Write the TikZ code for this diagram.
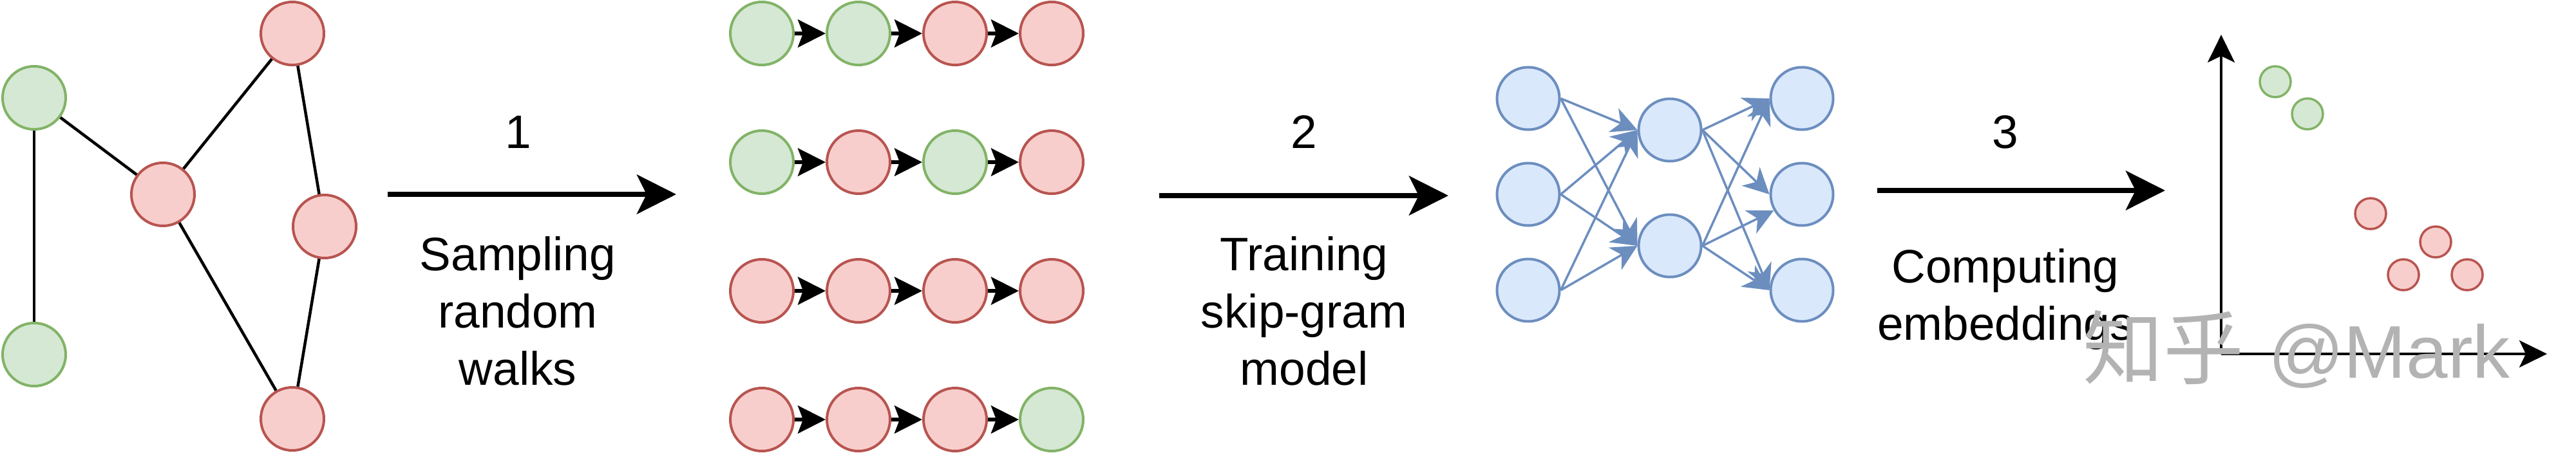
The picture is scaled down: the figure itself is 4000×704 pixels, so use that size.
\documentclass[tikz,border=0pt]{standalone}
\usepackage{fontspec}
\setmainfont{Liberation Sans}
\newfontfamily\cjkfont{Noto Sans CJK SC}
\usetikzlibrary{arrows.meta}

\definecolor{greenfill}{HTML}{D5E8D4}
\definecolor{greenline}{HTML}{82B366}
\definecolor{redfill}{HTML}{F8CECC}
\definecolor{redline}{HTML}{B85450}
\definecolor{bluefill}{HTML}{DAE8FC}
\definecolor{blueline}{HTML}{6C8EBF}
\definecolor{markgray}{HTML}{B3B3B3}

\tikzset{
    vert/.style={circle, inner sep=0pt, minimum size=98pt, line width=4pt},
    green node/.style={vert, fill=greenfill, draw=greenline},
    red node/.style={vert, fill=redfill, draw=redline},
    net node/.style={circle, inner sep=0pt, minimum size=97pt, line width=4pt, fill=bluefill, draw=blueline},
    green dot/.style={circle, inner sep=0pt, minimum size=48pt, line width=3.5pt, fill=greenfill, draw=greenline},
    red dot/.style={circle, inner sep=0pt, minimum size=48pt, line width=3.5pt, fill=redfill, draw=redline},
    graph edge/.style={black, line width=4.5pt},
    big arrow/.style={black, line width=8pt, -{Stealth[length=61pt, width=61pt, inset=15pt]}},
    walk arrow/.style={black, line width=6pt, -{Stealth[length=43pt, width=43pt, inset=8pt]}},
    net arrow/.style={blueline, line width=3.5pt, -{Stealth[length=40pt, width=40pt, inset=12pt]}},
    axis arrow/.style={black, line width=4pt, -{Stealth[length=43pt, width=42pt, inset=10pt]}},
    step label/.style={font=\fontsize{73}{89}\selectfont, align=center, anchor=base, inner sep=0pt},
}

\begin{document}
\begin{tikzpicture}[x=1pt, y=-1pt]
    \useasboundingbox (0,0) rectangle (4000,704);

    % input graph
    \node[green node] (g1) at (53,152) {};
    \node[green node] (g2) at (53,551) {};
    \node[red node] (r1) at (253,302) {};
    \node[red node] (r2) at (454,52) {};
    \node[red node] (r3) at (504,352) {};
    \node[red node] (r4) at (454,651) {};
    \draw[graph edge] (g1) -- (g2);
    \draw[graph edge] (g1) -- (r1);
    \draw[graph edge] (r1) -- (r2);
    \draw[graph edge] (r1) -- (r4);
    \draw[graph edge] (r2) -- (r3);
    \draw[graph edge] (r3) -- (r4);

    % step 1
    \coordinate (a1) at (602,302);
    \coordinate (b1) at (1050,302);
    \draw[big arrow] (a1) -- (b1);
    \node[step label] (n1) at (805,230) {1};
    \node[step label] (l1) at (804,598) {Sampling\\random\\walks};

    % random walks
    \foreach \row/\cols in {1/{green,green,red,red}, 2/{green,red,green,red}, 3/{red,red,red,red}, 4/{red,red,red,green}} {
        \foreach \c [count=\i] in \cols
            \node[\c\space node] (w\row\i) at ({1183+150*(\i-1)}, {52+200*(\row-1)}) {};
        \foreach \i [evaluate=\i as \j using int(\i+1)] in {1,2,3}
            \draw[walk arrow] (w\row\i) -- (w\row\j);
    }

    % step 2
    \coordinate (a2) at (1800,304);
    \coordinate (b2) at (2249,304);
    \draw[big arrow] (a2) -- (b2);
    \node[step label] (n2) at (2025,230) {2};
    \node[step label] (l2) at (2025,598) {Training\\skip-gram\\model};

    % skip-gram model
    \node[net node] (i1) at (2373,153) {};
    \node[net node] (i2) at (2373,302) {};
    \node[net node] (i3) at (2373,451) {};
    \node[net node] (h1) at (2593,202) {};
    \node[net node] (h2) at (2593,382) {};
    \node[net node] (o1) at (2798,153) {};
    \node[net node] (o2) at (2798,302) {};
    \node[net node] (o3) at (2798,451) {};
    \foreach \a in {i1,i2,i3}
        \foreach \b in {h1,h2}
            \draw[net arrow] (\a.east) -- (\b.west);
    \foreach \b in {o1,o2,o3}
        \draw[net arrow] (h1.east) -- (\b.west);
    \draw[net arrow] (h2.east) -- (o1.west);
    \draw[net arrow] (h2.east) -- (o2.210);
    \draw[net arrow] (h2.east) -- (o3.west);

    % step 3
    \coordinate (a3) at (2915,296);
    \coordinate (b3) at (3362,296);
    \draw[big arrow] (a3) -- (b3);
    \node[step label] (n3) at (3114,230) {3};
    \node[step label] (l3) at (3114,528) {Computing\\embeddings};

    % embeddings
    \coordinate (orig) at (3449,550);
    \coordinate (ytop) at (3449,54);
    \coordinate (xend) at (3955,550);
    \draw[axis arrow] (orig) -- (ytop);
    \draw[axis arrow] (orig) -- (xend);
    \node[green dot] (e1) at (3533,127) {};
    \node[green dot] (e2) at (3583,177) {};
    \node[red dot] (e3) at (3681,332) {};
    \node[red dot] (e4) at (3782,376) {};
    \node[red dot] (e5) at (3732,427) {};
    \node[red dot] (e6) at (3831,427) {};

    \node[anchor=base west, inner sep=0pt, text=markgray, font=\fontsize{116}{116}\selectfont] (mark) at (3234,587) {{\cjkfont\fontsize{125}{125}\selectfont 知乎}\hspace{38pt}@Mark};
\end{tikzpicture}
\end{document}
